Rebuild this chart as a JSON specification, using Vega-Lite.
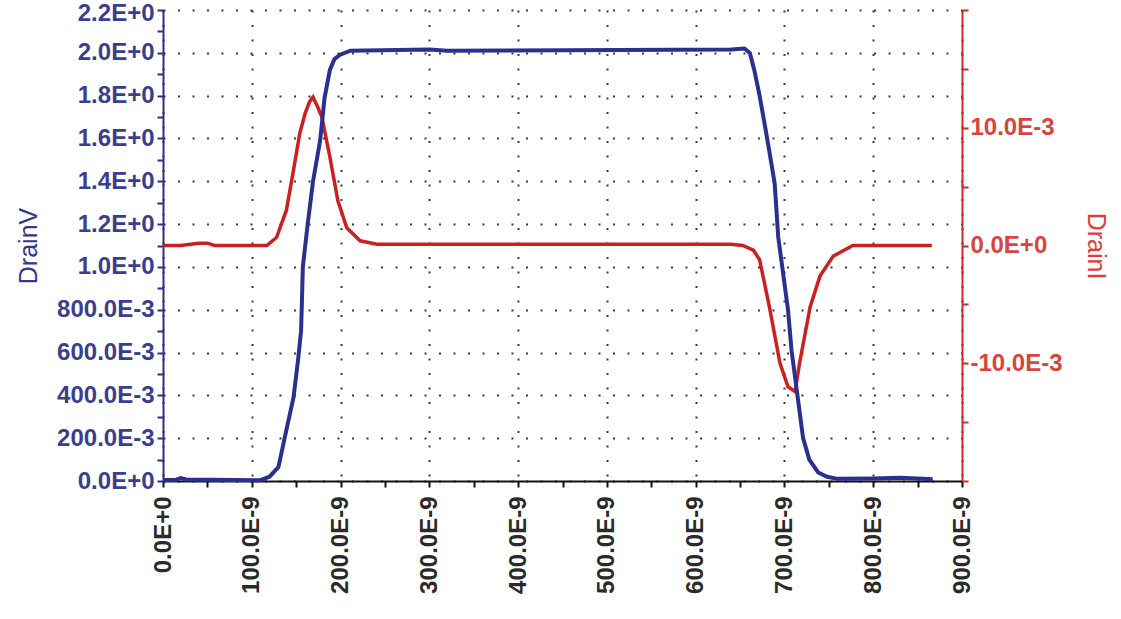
{
  "$schema": "https://vega.github.io/schema/vega-lite/v6.json",
  "width": 799,
  "height": 471,
  "autosize": {"type": "none"},
  "padding": {"left": 163, "top": 10, "right": 159, "bottom": 138},
  "background": "white",
  "config": {"view": {"stroke": null}, "font": "Liberation Sans"},
  "datasets": {
    "drainV": [
      {"t_ns": 0, "DrainV": 0.005}, {"t_ns": 15, "DrainV": 0.006}, {"t_ns": 20, "DrainV": 0.014}, {"t_ns": 26, "DrainV": 0.007},
      {"t_ns": 109, "DrainV": 0.003}, {"t_ns": 120, "DrainV": 0.02}, {"t_ns": 130, "DrainV": 0.065}, {"t_ns": 137, "DrainV": 0.2},
      {"t_ns": 147, "DrainV": 0.39}, {"t_ns": 152, "DrainV": 0.56}, {"t_ns": 155.5, "DrainV": 0.7}, {"t_ns": 156.5, "DrainV": 0.84},
      {"t_ns": 157.5, "DrainV": 1.0}, {"t_ns": 163, "DrainV": 1.2}, {"t_ns": 169, "DrainV": 1.4}, {"t_ns": 177, "DrainV": 1.59},
      {"t_ns": 182, "DrainV": 1.79}, {"t_ns": 188, "DrainV": 1.92}, {"t_ns": 193, "DrainV": 1.97}, {"t_ns": 199, "DrainV": 1.99},
      {"t_ns": 211, "DrainV": 2.01}, {"t_ns": 300, "DrainV": 2.015}, {"t_ns": 320, "DrainV": 2.01}, {"t_ns": 640, "DrainV": 2.015},
      {"t_ns": 655, "DrainV": 2.02}, {"t_ns": 661, "DrainV": 2.0}, {"t_ns": 666, "DrainV": 1.92}, {"t_ns": 672, "DrainV": 1.8},
      {"t_ns": 678, "DrainV": 1.66}, {"t_ns": 683, "DrainV": 1.54}, {"t_ns": 689, "DrainV": 1.39}, {"t_ns": 693, "DrainV": 1.14},
      {"t_ns": 704, "DrainV": 0.8}, {"t_ns": 708, "DrainV": 0.61}, {"t_ns": 714, "DrainV": 0.42}, {"t_ns": 721, "DrainV": 0.2},
      {"t_ns": 728, "DrainV": 0.1}, {"t_ns": 738, "DrainV": 0.04}, {"t_ns": 748, "DrainV": 0.02}, {"t_ns": 760, "DrainV": 0.01},
      {"t_ns": 800, "DrainV": 0.012}, {"t_ns": 830, "DrainV": 0.015}, {"t_ns": 850, "DrainV": 0.012}, {"t_ns": 867, "DrainV": 0.008}
    ],
    "drainI": [
      {"t_ns": 0, "DrainI": 0}, {"t_ns": 20, "DrainI": 0}, {"t_ns": 40, "DrainI": 0.0002}, {"t_ns": 50, "DrainI": 0.0002},
      {"t_ns": 58, "DrainI": 0}, {"t_ns": 117, "DrainI": 0}, {"t_ns": 128, "DrainI": 0.0007}, {"t_ns": 139, "DrainI": 0.003},
      {"t_ns": 147, "DrainI": 0.0064}, {"t_ns": 154, "DrainI": 0.0095}, {"t_ns": 160, "DrainI": 0.0112}, {"t_ns": 165, "DrainI": 0.0122},
      {"t_ns": 169, "DrainI": 0.0126}, {"t_ns": 174, "DrainI": 0.0118}, {"t_ns": 179, "DrainI": 0.0109}, {"t_ns": 188, "DrainI": 0.0075},
      {"t_ns": 197, "DrainI": 0.0038}, {"t_ns": 207, "DrainI": 0.0015}, {"t_ns": 222, "DrainI": 0.0004}, {"t_ns": 241, "DrainI": 0.0001},
      {"t_ns": 260, "DrainI": 0.0001}, {"t_ns": 640, "DrainI": 0.0001}, {"t_ns": 653, "DrainI": 0}, {"t_ns": 665, "DrainI": -0.0004},
      {"t_ns": 672, "DrainI": -0.0012}, {"t_ns": 683, "DrainI": -0.0052}, {"t_ns": 695, "DrainI": -0.01}, {"t_ns": 704, "DrainI": -0.012},
      {"t_ns": 712, "DrainI": -0.0124}, {"t_ns": 717, "DrainI": -0.01}, {"t_ns": 729, "DrainI": -0.0052}, {"t_ns": 740, "DrainI": -0.0026},
      {"t_ns": 755, "DrainI": -0.0009}, {"t_ns": 777, "DrainI": 0}, {"t_ns": 866, "DrainI": 0}
    ]
  },
  "encoding": {
    "x": {
      "field": "t_ns", "type": "quantitative",
      "scale": {"domain": [0, 900], "nice": false, "zero": false},
      "axis": {
        "title": null,
        "values": [0, 50, 100, 150, 200, 250, 300, 350, 400, 450, 500, 550, 600, 650, 700, 750, 800, 850, 900],
        "labelAngle": -90,
        "labelExpr": "datum.value % 100 == 0 ? (datum.value == 0 ? '0.0E+0' : format(datum.value, '.1f') + 'E-9') : ''",
        "grid": true,
        "gridOpacity": {"condition": {"test": "datum.value % 100 == 0", "value": 1}, "value": 0},
        "gridDash": [2, 12.5],
        "gridColor": "#3a3a3a",
        "gridWidth": 2,
        "domainColor": "#111111",
        "domainWidth": 2,
        "tickColor": "#111111",
        "tickWidth": 2,
        "tickSize": 6,
        "labelPadding": 9,
        "labelFontSize": 24,
        "labelFontWeight": "bold",
        "labelColor": "#2a2a2a",
        "labelFlush": false,
        "labelOverlap": false
      }
    }
  },
  "layer": [
    {
      "data": {"name": "drainI"},
      "mark": {"type": "line", "color": "#cc2020", "strokeWidth": 3.5},
      "encoding": {
        "y": {
          "field": "DrainI", "type": "quantitative",
          "scale": {"domain": [-0.02, 0.02], "nice": false},
          "axis": {
            "orient": "right",
            "title": "DrainI",
            "titleAngle": 90,
            "titleColor": "#e03c3c",
            "titleFontSize": 25,
            "titleFontWeight": "normal",
            "titlePadding": 20,
            "values": [-0.02, -0.015, -0.01, -0.005, 0, 0.005, 0.01, 0.015, 0.02],
            "labelExpr": "round(datum.value * 1000) == 0 ? '0.0E+0' : (round(datum.value * 1000) == 10 ? '10.0E-3' : (round(datum.value * 1000) == -10 ? '-10.0E-3' : ''))",
            "grid": false,
            "domainColor": "#cc2a2a",
            "domainWidth": 2,
            "tickColor": "#cc2a2a",
            "tickWidth": 2,
            "tickSize": 6,
            "labelPadding": 2,
            "labelFontSize": 24,
            "labelFontWeight": "bold",
            "labelColor": "#d9443c",
            "labelFlush": false,
            "labelOverlap": false
          }
        }
      }
    },
    {
      "data": {"name": "drainV"},
      "mark": {"type": "line", "color": "#2b2f8f", "strokeWidth": 4},
      "encoding": {
        "y": {
          "field": "DrainV", "type": "quantitative",
          "scale": {"domain": [0, 2.2], "nice": false},
          "axis": {
            "orient": "left",
            "title": "DrainV",
            "titleColor": "#33368f",
            "titleFontSize": 25,
            "titleFontWeight": "normal",
            "titlePadding": 15,
            "values": [0, 0.1, 0.2, 0.3, 0.4, 0.5, 0.6, 0.7, 0.8, 0.9, 1.0, 1.1, 1.2, 1.3, 1.4, 1.5, 1.6, 1.7, 1.8, 1.9, 2.0, 2.1, 2.2],
            "labelExpr": "round(datum.value * 10) % 2 == 1 ? '' : (datum.value == 0 ? '0.0E+0' : (datum.value >= 0.99 ? format(datum.value, '.1f') + 'E+0' : format(datum.value * 1000, '.1f') + 'E-3'))",
            "labelOffset": {"condition": {"test": "datum.value > 2.15", "value": 3}, "value": 0},
            "grid": true,
            "gridOpacity": {"condition": {"test": "round(datum.value * 10) % 2 == 0", "value": 1}, "value": 0},
            "gridDash": [2, 12.5],
            "gridColor": "#3a3a3a",
            "gridWidth": 2,
            "domainColor": "#2d2f8a",
            "domainWidth": 2,
            "tickColor": "#2d2f8a",
            "tickWidth": 2,
            "tickSize": 6,
            "labelPadding": 3,
            "labelFontSize": 24,
            "labelFontWeight": "bold",
            "labelColor": "#3a3d90",
            "labelFlush": false,
            "labelOverlap": false
          }
        }
      }
    }
  ],
  "resolve": {"scale": {"y": "independent"}}
}
